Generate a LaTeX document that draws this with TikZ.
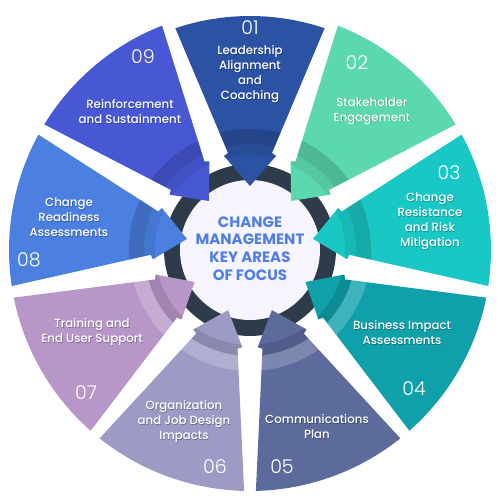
\documentclass[tikz,border=0pt]{standalone}
\usepackage{fontspec}
\setmainfont{Poppins}
\newfontfamily\numfont{Poppins Light}
\newfontfamily\labfont{Poppins Medium}
\definecolor{c1}{HTML}{2C52A3}
\definecolor{c2}{HTML}{5CD8B0}
\definecolor{c3}{HTML}{19C8C4}
\definecolor{c4}{HTML}{10A0AA}
\definecolor{c5}{HTML}{5C6A9C}
\definecolor{c6}{HTML}{9C9BC6}
\definecolor{c7}{HTML}{B897C8}
\definecolor{c8}{HTML}{4B80E0}
\definecolor{c9}{HTML}{4858D5}
\definecolor{ringc}{HTML}{2E3B4B}
\definecolor{discc}{HTML}{F6F5FE}
\definecolor{ctext}{HTML}{4F7EE6}
\tikzset{
  lbl/.style={text=white, align=center, font=\labfont\fontsize{11.8}{15}\selectfont},
  shd/.style={lbl, text=black, opacity=.28, xshift=.7pt, yshift=-.7pt},
  num/.style={text=white, font=\numfont\fontsize{19}{19}\selectfont},
}
\begin{document}
\begin{tikzpicture}[x=1pt,y=1pt]
\useasboundingbox (-250,-250) rectangle (250,250);
\fill[white] (-250,-250) rectangle (250,250);
% hub
\fill[ringc] (0,0) circle (86);
\node (disc) [circle, fill=discc, minimum size=140pt, inner sep=0pt] at (0,0) {};
% segments
\foreach \a/\c/\R/\ca/\oa/\cb/\ob in {
  90/c1/234/black/.15/black/.07,
  50/c2/241/black/.15/black/.07,
  10/c3/241/black/.15/black/.07,
  -30/c4/241/white/.2/black/.12,
  -70/c5/241/white/.2/black/.12,
  -110/c6/241/white/.2/black/.12,
  -150/c7/241/white/.2/black/.12,
  170/c8/241/black/.15/black/.07,
  130/c9/241/black/.15/black/.07}{
  \begin{scope}[rotate=\a]
    \fill[\c] (97,-22) -- (-18.6:\R) arc[start angle=-18.6,end angle=18.6,radius=\R]
      -- (97,22) -- (94,26) -- (64,0) -- (94,-26) -- cycle;
    \begin{scope}
      \clip (97,-22) -- (-18.6:\R) arc[start angle=-18.6,end angle=18.6,radius=\R]
        -- (97,22) -- (94,26) -- (64,0) -- (94,-26) -- cycle;
      \fill[\ca, opacity=\oa, even odd rule] (0,0) circle (121) (0,0) circle (106);
      \fill[\cb, opacity=\ob, even odd rule] (0,0) circle (106) (0,0) circle (95);
    \end{scope}
  \end{scope}
}
% center title
\node (title) [font=\bfseries\fontsize{15}{17.7}\selectfont, text=ctext, align=center] at (0,1.5)
  {CHANGE\\MANAGEMENT\\KEY AREAS\\OF FOCUS};
% numbers
\node (n1) [num] at (0,222) {01};
\node (n2) [num] at (107,187) {02};
\node (n3) [num] at (199,77) {03};
\node (n4) [num] at (164,-139) {04};
\node (n5) [num] at (32,-217) {05};
\node (n6) [num] at (-35,-217) {06};
\node (n7) [num] at (-164,-143) {07};
\node (n8) [num] at (-221,-10) {08};
\node (n9) [num] at (-107,193) {09};
% labels with shadow
\node (s1) [shd] at (0,175.5) {Leadership\\Alignment\\and\\Coaching};
\node (t1) [lbl] at (0,175.5) {Leadership\\Alignment\\and\\Coaching};
\node (s2) [shd] at (122,139) {Stakeholder\\Engagement};
\node (t2) [lbl] at (122,139) {Stakeholder\\Engagement};
\node (s3) [shd] at (180,28.5) {Change\\Resistance\\and Risk\\Mitigation};
\node (t3) [lbl] at (180,28.5) {Change\\Resistance\\and Risk\\Mitigation};
\node (s4) [shd] at (152,-82.5) {Business Impact\\Assessments};
\node (t4) [lbl] at (152,-82.5) {Business Impact\\Assessments};
\node (s5) [shd] at (67,-177) {Communications\\Plan};
\node (t5) [lbl] at (67,-177) {Communications\\Plan};
\node (s6) [shd] at (-66,-172) {Organization\\and Job Design\\Impacts};
\node (t6) [lbl] at (-66,-172) {Organization\\and Job Design\\Impacts};
\node (s7) [shd] at (-158,-82.5) {Training and\\End User Support};
\node (t7) [lbl] at (-158,-82.5) {Training and\\End User Support};
\node (s8) [shd] at (-181,33) {Change\\Readiness\\Assessments};
\node (t8) [lbl] at (-181,33) {Change\\Readiness\\Assessments};
\node (s9) [shd] at (-120,138.5) {Reinforcement\\and Sustainment};
\node (t9) [lbl] at (-120,138.5) {Reinforcement\\and Sustainment};
\end{tikzpicture}
\end{document}
